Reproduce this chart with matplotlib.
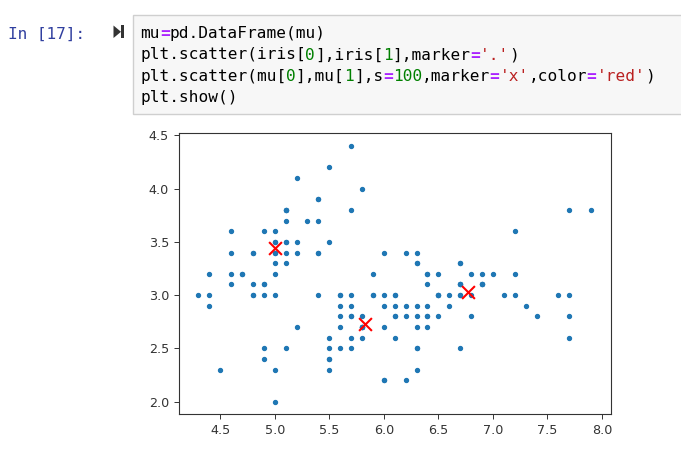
import matplotlib.pyplot as plt
from matplotlib.patches import Rectangle, Polygon

# iris sepal length / sepal width (columns 0 and 1)
sepal_length = [
    5.1, 4.9, 4.7, 4.6, 5.0, 5.4, 4.6, 5.0, 4.4, 4.9, 5.4, 4.8, 4.8, 4.3, 5.8, 5.7, 5.4,
    5.1, 5.7, 5.1, 5.4, 5.1, 4.6, 5.1, 4.8, 5.0, 5.0, 5.2, 5.2, 4.7, 4.8, 5.4, 5.2, 5.5,
    4.9, 5.0, 5.5, 4.9, 4.4, 5.1, 5.0, 4.5, 4.4, 5.0, 5.1, 4.8, 5.1, 4.6, 5.3, 5.0,
    7.0, 6.4, 6.9, 5.5, 6.5, 5.7, 6.3, 4.9, 6.6, 5.2, 5.0, 5.9, 6.0, 6.1, 5.6, 6.7, 5.6,
    5.8, 6.2, 5.6, 5.9, 6.1, 6.3, 6.1, 6.4, 6.6, 6.8, 6.7, 6.0, 5.7, 5.5, 5.5, 5.8, 6.0,
    5.4, 6.0, 6.7, 6.3, 5.6, 5.5, 5.5, 6.1, 5.8, 5.0, 5.6, 5.7, 5.7, 6.2, 5.1, 5.7,
    6.3, 5.8, 7.1, 6.3, 6.5, 7.6, 4.9, 7.3, 6.7, 7.2, 6.5, 6.4, 6.8, 5.7, 5.8, 6.4, 6.5,
    7.7, 7.7, 6.0, 6.9, 5.6, 7.7, 6.3, 6.7, 7.2, 6.2, 6.1, 6.4, 7.2, 7.4, 7.9, 6.4, 6.3,
    6.1, 7.7, 6.3, 6.4, 6.0, 6.9, 6.7, 6.9, 5.8, 6.8, 6.7, 6.7, 6.3, 6.5, 6.2, 5.9,
]
sepal_width = [
    3.5, 3.0, 3.2, 3.1, 3.6, 3.9, 3.4, 3.4, 2.9, 3.1, 3.7, 3.4, 3.0, 3.0, 4.0, 4.4, 3.9,
    3.5, 3.8, 3.8, 3.4, 3.7, 3.6, 3.3, 3.4, 3.0, 3.4, 3.5, 3.4, 3.2, 3.1, 3.4, 4.1, 4.2,
    3.1, 3.2, 3.5, 3.6, 3.0, 3.4, 3.5, 2.3, 3.2, 3.5, 3.8, 3.0, 3.8, 3.2, 3.7, 3.3,
    3.2, 3.2, 3.1, 2.3, 2.8, 2.8, 3.3, 2.4, 2.9, 2.7, 2.0, 3.0, 2.2, 2.9, 2.9, 3.1, 3.0,
    2.7, 2.2, 2.5, 3.2, 2.8, 2.5, 2.8, 2.9, 3.0, 2.8, 3.0, 2.9, 2.6, 2.4, 2.4, 2.7, 2.7,
    3.0, 3.4, 3.1, 2.3, 3.0, 2.5, 2.6, 3.0, 2.6, 2.3, 2.7, 3.0, 2.9, 2.9, 2.5, 2.8,
    3.3, 2.7, 3.0, 2.9, 3.0, 3.0, 2.5, 2.9, 2.5, 3.6, 3.2, 2.7, 3.0, 2.5, 2.8, 3.2, 3.0,
    3.8, 2.6, 2.2, 3.2, 2.8, 2.8, 2.7, 3.3, 3.2, 2.8, 3.0, 2.8, 3.0, 2.8, 3.8, 2.8, 2.8,
    2.6, 3.0, 3.4, 3.1, 3.0, 3.1, 3.1, 3.1, 2.7, 3.2, 3.3, 3.0, 2.5, 3.0, 3.4, 3.0,
]

# cluster centres (red crosses)
mu_x = [5.00, 5.83, 6.77]
mu_y = [3.44, 2.73, 3.03]

# code cell text, as (text, colour) tokens per line
BLK, EQ, NUM, STR = "#000000", "#AA22FF", "#008000", "#BA2121"
code_lines = [
    [("mu", BLK), ("=", EQ), ("pd.DataFrame(mu)", BLK)],
    [("plt.scatter(iris[", BLK), ("0", NUM), ("],iris[", BLK), ("1", NUM),
     ("],marker", BLK), ("=", EQ), ("'.'", STR), (")", BLK)],
    [("plt.scatter(mu[", BLK), ("0", NUM), ("],mu[", BLK), ("1", NUM), ("],s", BLK),
     ("=", EQ), ("100", NUM), (",marker", BLK), ("=", EQ), ("'x'", STR),
     (",color", BLK), ("=", EQ), ("'red'", STR), (")", BLK)],
    [("plt.show()", BLK)],
]

W, H = 681, 461
fig = plt.figure(figsize=(W / 100, H / 100), dpi=100)
fig.patch.set_facecolor("white")


def fx(px):
    return px / W


def fy(py):
    return 1 - py / H


# code cell box (runs off the right edge)
fig.patches.append(Rectangle((fx(132.5), fy(114)), fx(600), (114 - 14.5) / H,
                             transform=fig.transFigure, facecolor="#f7f7f7",
                             edgecolor="#cfcfcf", lw=1))
# run marker
fig.patches.append(Polygon([(fx(113.5), fy(25.5)), (fx(113.5), fy(38)), (fx(121), fy(31.8))],
                           closed=True, transform=fig.transFigure,
                           facecolor="#333333", edgecolor="none"))
fig.patches.append(Rectangle((fx(121.3), fy(38)), fx(2.5), 12.5 / H,
                             transform=fig.transFigure, facecolor="#333333",
                             edgecolor="none"))

mono = "DejaVu Sans Mono"
fig.text(fx(8), fy(38.3), "In [17]:", family=mono, fontsize=11.5,
         color="#303F9F", va="baseline")

cw = 9.70
baselines = [38.4, 59.5, 80.6, 101.7]
for line, base in zip(code_lines, baselines):
    col = 0
    for tok, color in line:
        fig.text(fx(140.5 + col * cw), fy(base), tok, family=mono,
                 fontsize=11.6, color=color, va="baseline",
                 fontweight="bold" if color == EQ else "normal")
        col += len(tok)

ax = fig.add_axes([fx(178.7), fy(414.3), fx(610.7 - 178.7), (414.3 - 133.3) / H])
ax.scatter(sepal_length, sepal_width, marker=".", s=32)
ax.scatter(mu_x, mu_y, s=85, marker="x", color="red")
ax.tick_params(labelsize=9.2, colors="#333333", width=0.7)
for sp in ax.spines.values():
    sp.set_linewidth(0.8)
    sp.set_color("#333333")

fig.savefig("out.png", dpi=100)
